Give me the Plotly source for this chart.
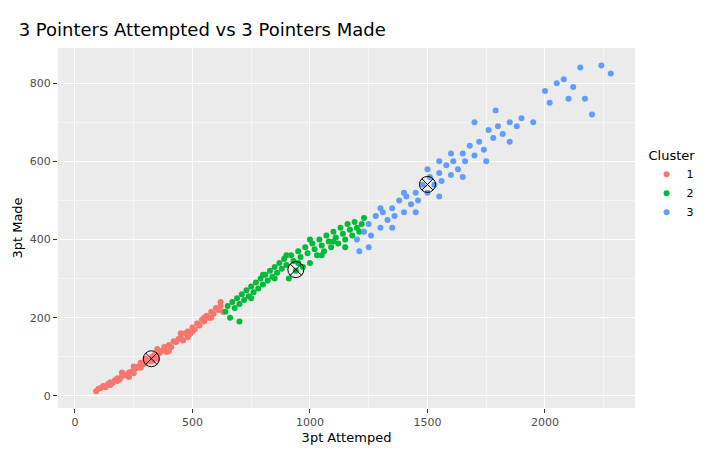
import plotly.graph_objects as go

# cluster 1 (red)
c1_x = [90,100,110,120,130,140,150,160,170,180,190,200,210,220,230,240,250,260,270,280,290,300,310,320,330,340,350,360,370,380,390,400,410,420,430,440,450,460,470,480,490,500,510,520,530,540,550,560,570,580,590,600,610,620,630,150,200,250,300,350,400,450,500,550,180,280,380,480,580,620,230,330]
c1_y = [12,18,20,25,22,30,35,33,40,45,42,50,55,52,60,62,58,70,75,72,80,85,90,88,100,105,95,110,115,120,112,130,125,140,138,145,150,142,160,165,158,175,170,185,180,195,190,205,200,215,210,225,220,230,215,28,60,75,95,120,115,160,165,200,38,85,125,150,200,240,48,90]
# cluster 2 (green)
c2_x = [640,650,660,670,680,690,700,710,720,730,740,750,760,770,780,790,800,810,820,830,840,850,860,870,880,890,900,910,920,930,940,950,960,970,980,990,1000,1010,1020,1030,1040,1050,1060,1070,1080,1090,1100,1110,1120,1130,1140,1150,1160,1170,1180,1190,1200,1210,1220,1230,700,750,850,950,1050,1150,800,900,1000,1100]
c2_y = [215,230,200,240,225,250,235,260,245,270,255,280,265,290,275,300,285,310,295,320,305,330,315,340,325,350,335,300,360,345,320,370,355,330,380,365,340,390,375,360,400,385,370,410,395,380,420,405,390,430,415,400,440,425,410,445,430,420,440,455,190,250,300,340,360,380,310,360,400,395]
# cluster 3 (blue)
c3_x = [1200,1210,1230,1250,1260,1280,1300,1310,1330,1350,1360,1380,1400,1410,1430,1450,1460,1480,1500,1510,1530,1550,1560,1580,1600,1610,1630,1650,1660,1680,1700,1720,1740,1760,1780,1800,1820,1850,1880,1900,1950,2000,2020,2050,2080,2100,2120,2150,2170,2200,2240,2280,1250,1350,1450,1550,1650,1750,1600,1500,1400,1300,1790,1700,1550,1850]
c3_y = [400,370,420,440,410,460,430,470,450,480,460,500,470,510,490,520,500,540,520,560,540,570,550,590,565,600,580,620,600,640,615,650,630,680,660,690,670,700,690,710,700,780,750,800,810,760,790,840,760,720,845,825,380,430,470,510,560,600,620,580,520,480,730,700,600,650]
# centroids
cen_x = [325, 940, 1500]
cen_y = [95, 323, 541]

colors = ["#F8766D", "#00BA38", "#619CFF"]
fig = go.Figure()
for name, xs, ys, col in [("1", c1_x, c1_y, colors[0]), ("2", c2_x, c2_y, colors[1]), ("3", c3_x, c3_y, colors[2])]:
    fig.add_trace(go.Scatter(x=xs, y=ys, mode="markers", name=name,
                             marker=dict(color=col, size=6)))
fig.add_trace(go.Scatter(x=cen_x, y=cen_y, mode="markers", showlegend=False,
                         marker=dict(symbol="circle-x-open", size=16, color="black",
                                     line=dict(width=1))))

ax = dict(showgrid=True, gridcolor="white", gridwidth=1.2, zeroline=False, automargin=False,
          ticks="outside", tickcolor="#333", ticklen=4, tickfont=dict(color="#4d4d4d", size=11),
          showline=False, minor=dict(showgrid=True, gridcolor="#F5F5F5", gridwidth=0.6))
fig.update_layout(
    width=711, height=453,
    title=dict(text="3 Pointers Attempted vs 3 Pointers Made", x=0.015, y=0.952, yanchor="middle",
               font=dict(size=18, color="black")),
    plot_bgcolor="#EBEBEB", paper_bgcolor="white",
    font=dict(family="DejaVu Sans", color="black"),
    margin=dict(l=50, r=84, t=40, b=53),
    xaxis=dict(ax, range=[-72, 2383], tickvals=[0, 500, 1000, 1500, 2000],
               minor=dict(ax["minor"], tickvals=[250, 750, 1250, 1750, 2250]),
               title=dict(text="3pt Attemped", font=dict(size=13), standoff=4)),
    yaxis=dict(ax, range=[-31, 890], tickvals=[0, 200, 400, 600, 800],
               minor=dict(ax["minor"], tickvals=[100, 300, 500, 700]),
               title=dict(text="3pt Made", font=dict(size=13), standoff=4)),
    legend=dict(title=dict(text="Cluster", font=dict(size=13)), x=1.02, y=0.62, yanchor="middle",
                font=dict(size=11)),
)
fig.write_html("out.html")
